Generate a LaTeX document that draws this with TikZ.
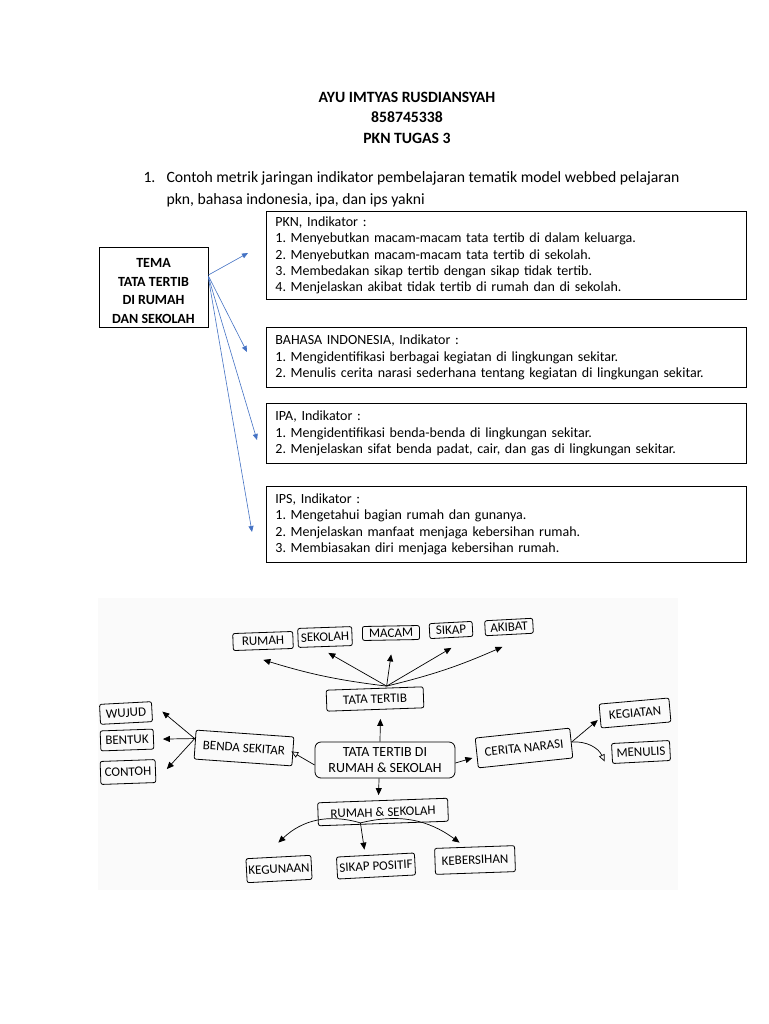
\documentclass[tikz,border=0pt]{standalone}
\usepackage{fontspec}
\setmainfont{Carlito}
\usetikzlibrary{positioning}
\usetikzlibrary{arrows.meta}
\definecolor{wordblue}{HTML}{4472C4}
\tikzset {
  % printed indicator boxes
  indbox/.style={draw, line width=0.8pt, anchor=north west, text width=462pt,
    inner xsep=9pt, inner ysep=5pt, align=left, font=\frenchspacing\fontsize{14}{16.3}\selectfont},
  temabox/.style={draw, line width=0.8pt, minimum width=109pt, minimum height=80pt},
  tematext/.style={align=center, font=\bfseries\fontsize{14}{18.5}\selectfont},
  title/.style={font=\bfseries\fontsize{15.7}{18}\selectfont},
  plain/.style={font=\fontsize{15.7}{18}\selectfont},
  link/.style={wordblue, line width=0.6pt, -{Triangle[length=6pt,width=5pt]}},
  % hand drawn mind map
  hand/.style={draw, line width=0.8pt, rounded corners=2pt, inner sep=1pt,
    align=center, font=\fontsize{13}{15}\selectfont},
  harrow/.style={line width=0.7pt, -{Triangle[length=7pt,width=6pt]}},
  hopen/.style={line width=0.7pt, -{Triangle[open,length=7pt,width=6pt]}},
}
\begin{document}
\begin{tikzpicture}[x=1pt, y=-1pt]
        \fill[white] (0,0) rectangle (768,1024);
        \useasboundingbox (0,0) rectangle (768,1024);

        \node[title] (name) at (407,97) {AYU IMTYAS RUSDIANSYAH};
        \node[title] (nim) at (407,117) {858745338};
        \node[title] (tugas) at (407,138) {PKN TUGAS 3};

        \node[plain, anchor=base west] (num) at (140,183) {1.};
        \node[plain, anchor=base west] (intro1) at (163,183) {Contoh metrik jaringan indikator pembelajaran tematik model webbed pelajaran};
        \node[plain, anchor=base west] (intro2) at (163,205) {pkn, bahasa indonesia, ipa, dan ips yakni};

        \node[temabox] (tema) at (153.5,287) {};
        \node[tematext] (tematitle) at (153.5,291) {TEMA\\TATA TERTIB\\DI RUMAH\\DAN SEKOLAH};

        \node[indbox, minimum height=88pt] (pkn) at (266,211) {PKN, Indikator :\\
          1. Menyebutkan macam-macam tata tertib di dalam keluarga.\\
          2. Menyebutkan macam-macam tata tertib di sekolah.\\
          3. Membedakan sikap tertib dengan sikap tidak tertib.\\
          4. Menjelaskan akibat tidak tertib di rumah dan di sekolah.};
        \node[indbox, minimum height=60pt] (bindo) at (266,327) {BAHASA INDONESIA, Indikator :\\
          1. Mengidentifikasi berbagai kegiatan di lingkungan sekitar.\\
          2. Menulis cerita narasi sederhana tentang kegiatan di lingkungan sekitar.};
        \node[indbox, minimum height=60pt] (ipa) at (266,403) {IPA, Indikator :\\
          1. Mengidentifikasi benda-benda di lingkungan sekitar.\\
          2. Menjelaskan sifat benda padat, cair, dan gas di lingkungan sekitar.};
        \node[indbox, minimum height=76pt] (ips) at (266,486) {IPS, Indikator :\\
          1. Mengetahui bagian rumah dan gunanya.\\
          2. Menjelaskan manfaat menjaga kebersihan rumah.\\
          3. Membiasakan diri menjaga kebersihan rumah.};

        \coordinate (topkn) at (248,253);
        \coordinate (tobindo) at (247,352);
        \coordinate (toipa) at (257,440);
        \coordinate (toips) at (252,532);
        \draw[link] ([yshift=12pt]tema.east) -- (topkn);
        \draw[link] ([yshift=11pt]tema.east) -- (tobindo);
        \draw[link] ([yshift=10pt]tema.east) -- (toipa);
        \draw[link] ([yshift=9pt]tema.east) -- (toips);

        % photo of the hand drawn map
        \fill[gray!4] (98,598) rectangle (678,890);

        \node[hand, minimum width=60pt, minimum height=17pt, rotate=2] (rumah) at (263,641) {RUMAH};
        \node[hand, minimum width=54pt, minimum height=19pt, rotate=2] (sekolah) at (325,637) {SEKOLAH};
        \node[hand, minimum width=57pt, minimum height=14pt, rotate=1] (macam) at (391,633) {MACAM};
        \node[hand, minimum width=43pt, minimum height=15pt, rotate=3] (sikap) at (451,630) {SIKAP};
        \node[hand, minimum width=48pt, minimum height=15pt, rotate=3] (akibat) at (509,627) {AKIBAT};
        \node[hand, minimum width=97pt, minimum height=21pt, rotate=2] (tertib) at (375,699) {TATA TERTIB};

        \node[hand, rounded corners=6pt, minimum width=140pt, minimum height=36pt,
          font=\fontsize{14}{16}\selectfont] (pusat) at (385,760) {TATA TERTIB DI\\RUMAH \& SEKOLAH};

        \node[hand, minimum width=98pt, minimum height=29pt, rotate=-4] (benda) at (244,748) {BENDA SEKITAR};
        \node[hand, minimum width=52pt, minimum height=20pt, rotate=3] (wujud) at (126,713) {WUJUD};
        \node[hand, minimum width=53pt, minimum height=20pt, rotate=2] (bentuk) at (127,740) {BENTUK};
        \node[hand, minimum width=55pt, minimum height=23pt, rotate=2] (contoh) at (128,772) {CONTOH};

        \node[hand, minimum width=95pt, minimum height=30pt, rotate=6] (cerita) at (524,748) {CERITA NARASI};
        \node[hand, minimum width=70pt, minimum height=24pt, rotate=5] (kegiatan) at (635,713) {KEGIATAN};
        \node[hand, minimum width=58pt, minimum height=20pt, rotate=3] (menulis) at (641,752) {MENULIS};

        \node[hand, minimum width=130pt, minimum height=23pt, rotate=2] (rumahsek) at (383,812) {RUMAH \& SEKOLAH};
        \node[hand, minimum width=65pt, minimum height=24pt, rotate=3] (kegunaan) at (279,869) {KEGUNAAN};
        \node[hand, minimum width=78pt, minimum height=22pt, rotate=3] (positif) at (376,866) {SIKAP POSITIF};
        \node[hand, minimum width=80pt, minimum height=26pt, rotate=2] (bersih) at (475,860) {KEBERSIHAN};

        \draw[harrow] ([xshift=12pt,yshift=2pt]tertib.north) to[bend left=5] ([yshift=-10pt]rumah.south);
        \draw[harrow] ([xshift=12pt,yshift=2pt]tertib.north) -- ([xshift=3pt,yshift=-6pt]sekolah.south);
        \draw[harrow] ([xshift=12pt,yshift=2pt]tertib.north) -- ([yshift=-14pt]macam.south);
        \draw[harrow] ([xshift=12pt,yshift=2pt]tertib.north) -- ([yshift=-10pt]sikap.south);
        \draw[harrow] ([xshift=12pt,yshift=2pt]tertib.north) to[bend right=5] ([xshift=-7pt,yshift=-12pt]akibat.south);

        \draw[harrow] ([xshift=-5pt]pusat.north) -- ([xshift=5pt,yshift=-9pt]tertib.south);
        \draw[harrow] ([xshift=-6pt]pusat.south) -- ([xshift=-4pt,yshift=5pt]rumahsek.north);
        \draw[hopen] ([yshift=-5pt]pusat.west) -- ([xshift=-2pt]benda.east);
        \draw[harrow] ([yshift=-3pt]pusat.east) -- ([xshift=-4pt,yshift=-5pt]cerita.west);

        \draw[harrow] ([yshift=6pt]benda.west) -- ([xshift=10pt]wujud.east);
        \draw[harrow] ([yshift=6pt]benda.west) -- ([xshift=9pt]bentuk.east);
        \draw[harrow] ([yshift=6pt]benda.west) -- ([xshift=11pt,yshift=2pt]contoh.east);

        \draw[harrow] ([yshift=1pt]cerita.east) -- ([xshift=-2pt,yshift=-4pt]kegiatan.west);
        \draw[hopen] ([yshift=1pt]cerita.east) to[bend left=35] ([xshift=-7pt,yshift=-8pt]menulis.west);

        \draw[harrow] ([xshift=-23pt,yshift=1pt]rumahsek.south) to[bend right=30] ([yshift=14pt]kegunaan.north);
        \draw[harrow] ([xshift=-23pt,yshift=1pt]rumahsek.south) -- ([xshift=-11pt,yshift=5pt]positif.north);
        \draw[harrow] ([xshift=-23pt,yshift=1pt]rumahsek.south) to[bend left=25] ([xshift=-15pt,yshift=4pt]bersih.north);
\end{tikzpicture}
\end{document}
